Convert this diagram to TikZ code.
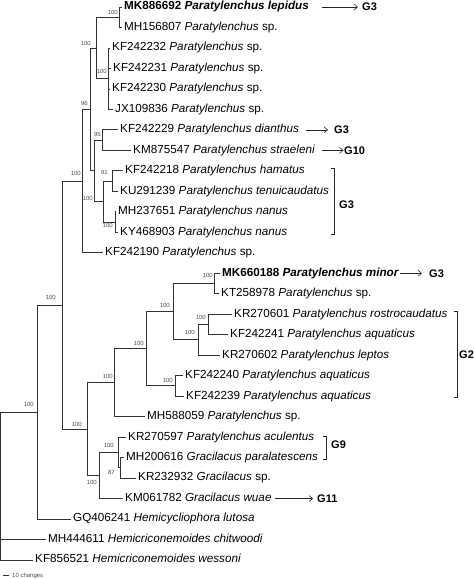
\documentclass[tikz,border=0pt]{standalone}
\usepackage{fontspec}
\setmainfont{Liberation Sans}
\usetikzlibrary{arrows.meta}
\tikzset{
  leaf/.style={anchor=west, inner sep=0pt, font=\fontsize{11.7}{12}\selectfont, text height=8.4pt, text depth=2.5pt},
  bs/.style={anchor=east, inner sep=0pt, font=\fontsize{6}{6}\selectfont, text=black!70},
  grp/.style={anchor=west, inner sep=0pt, font=\bfseries\fontsize{11}{12}\selectfont},
  br/.style={draw=black!80, line width=0.8pt},
  lb/.style={br, shorten >=2pt},
  arr/.style={draw=black!85, line width=0.6pt, -{Straight Barb[length=3.5pt,width=6pt]}},
  brk/.style={draw=black!85, line width=0.6pt}
}
\begin{document}
\begin{tikzpicture}[x=1pt,y={(0pt,-1pt)}]
\useasboundingbox (0,0) rectangle (474,579);
% leaves
\node[leaf] (l1) at (124,7.00) {\textbf{MK886692 \textit{Paratylenchus lepidus}}};
\node[leaf] (l2) at (124,27.48) {MH156807 \textit{Paratylenchus} sp.};
\node[leaf] (l3) at (112,47.96) {KF242232 \textit{Paratylenchus} sp.};
\node[leaf] (l4) at (113,68.44) {KF242231 \textit{Paratylenchus} sp.};
\node[leaf] (l5) at (112,88.92) {KF242230 \textit{Paratylenchus} sp.};
\node[leaf] (l6) at (115,109.40) {JX109836 \textit{Paratylenchus} sp.};
\node[leaf] (l7) at (120,129.88) {KF242229 \textit{Paratylenchus dianthus}};
\node[leaf] (l8) at (133,150.36) {KM875547 \textit{Paratylenchus straeleni}};
\node[leaf] (l9) at (125,170.84) {KF242218 \textit{Paratylenchus hamatus}};
\node[leaf] (l10) at (120,191.32) {KU291239 \textit{Paratylenchus tenuicaudatus}};
\node[leaf] (l11) at (118,211.80) {MH237651 \textit{Paratylenchus nanus}};
\node[leaf] (l12) at (120,232.28) {KY468903 \textit{Paratylenchus nanus}};
\node[leaf] (l13) at (105,252.76) {KF242190 \textit{Paratylenchus} sp.};
\node[leaf] (l14) at (222,273.24) {\textbf{MK660188 \textit{Paratylenchus minor}}};
\node[leaf] (l15) at (221,293.72) {KT258978 \textit{Paratylenchus} sp.};
\node[leaf] (l16) at (234,314.20) {KR270601 \textit{Paratylenchus rostrocaudatus}};
\node[leaf] (l17) at (230,334.68) {KF242241 \textit{Paratylenchus aquaticus}};
\node[leaf] (l18) at (222,355.16) {KR270602 \textit{Paratylenchus leptos}};
\node[leaf] (l19) at (185,375.64) {KF242240 \textit{Paratylenchus aquaticus}};
\node[leaf] (l20) at (186,396.12) {KF242239 \textit{Paratylenchus aquaticus}};
\node[leaf] (l21) at (147,416.60) {MH588059 \textit{Paratylenchus} sp.};
\node[leaf] (l22) at (128,437.08) {KR270597 \textit{Paratylenchus aculentus}};
\node[leaf] (l23) at (126,457.56) {MH200616 \textit{Gracilacus paralatescens}};
\node[leaf] (l24) at (138,478.04) {KR232932 \textit{Gracilacus} sp.};
\node[leaf] (l25) at (125,498.52) {KM061782 \textit{Gracilacus wuae}};
\node[leaf] (l26) at (73,519.00) {GQ406241 \textit{Hemicycliophora lutosa}};
\node[leaf] (l27) at (48,539.48) {MH444611 \textit{Hemicriconemoides chitwoodi}};
\node[leaf] (l28) at (35,559.96) {KF856521 \textit{Hemicriconemoides wessoni}};
% internal nodes
\coordinate (nA) at (119,17.24);
\coordinate (nB) at (108,78.68);
\coordinate (nC) at (96,47.96);
\coordinate (nD) at (102,140.12);
\coordinate (nE) at (112,181.08);
\coordinate (nF) at (115,222.04);
\coordinate (nG) at (103,201.56);
\coordinate (nP) at (94,170.84);
\coordinate (nQ) at (90,109.40);
\coordinate (nR) at (82,181.08);
\coordinate (nZ) at (214,283.48);
\coordinate (nAB) at (208,324.44);
\coordinate (nAA) at (198,339.80);
\coordinate (nX) at (173,311.64);
\coordinate (nY) at (175,385.88);
\coordinate (nW) at (146,348.76);
\coordinate (nU) at (114,382.68);
\coordinate (nAD) at (120,467.80);
\coordinate (nAC) at (118,452.44);
\coordinate (nV) at (99,475.48);
\coordinate (nT) at (87,429.08);
\coordinate (nS) at (62,305.08);
\coordinate (nR1) at (37,412.04);
\coordinate (root) at (0.6,486);
% branches
\draw[lb] (nA) |- (l1.west); \draw[lb] (nA) |- (l2.west);
\draw[lb] (nB) |- (l3.west); \draw[lb] (nB) |- (l4.west);
\draw[lb] (nB) |- (l5.west); \draw[lb] (nB) |- (l6.west);
\draw[br] (nC) |- (nA); \draw[br] (nC) |- (nB);
\draw[lb] (nD) |- (l7.west); \draw[lb] (nD) |- (l8.west);
\draw[lb] (nE) |- (l9.west); \draw[lb] (nE) |- (l10.west);
\draw[lb] (nF) |- (l11.west); \draw[lb] (nF) |- (l12.west);
\draw[br] (nG) |- (nE); \draw[br] (nG) |- (nF);
\draw[br] (nP) |- (nD); \draw[br] (nP) |- (nG);
\draw[br] (nQ) |- (nC); \draw[br] (nQ) |- (nP);
\draw[br] (nR) |- (nQ); \draw[lb] (nR) |- (l13.west);
\draw[lb] (nZ) |- (l14.west); \draw[lb] (nZ) |- (l15.west);
\draw[lb] (nAB) |- (l16.west); \draw[lb] (nAB) |- (l17.west);
\draw[br] (nAA) |- (nAB); \draw[lb] (nAA) |- (l18.west);
\draw[br] (nX) |- (nZ); \draw[br] (nX) |- (nAA);
\draw[lb] (nY) |- (l19.west); \draw[lb] (nY) |- (l20.west);
\draw[br] (nW) |- (nX); \draw[br] (nW) |- (nY);
\draw[br] (nU) |- (nW); \draw[lb] (nU) |- (l21.west);
\draw[lb] (nAD) |- (l23.west); \draw[lb] (nAD) |- (l24.west);
\draw[lb] (nAC) |- (l22.west); \draw[br] (nAC) |- (nAD);
\draw[br] (nV) |- (nAC); \draw[lb] (nV) |- (l25.west);
\draw[br] (nT) |- (nU); \draw[br] (nT) |- (nV);
\draw[br] (nS) |- (nR); \draw[br] (nS) |- (nT);
\draw[br] (nR1) |- (nS); \draw[lb] (nR1) |- (l26.west);
\draw[br] (root) |- (nR1); \draw[lb] (root) |- (l27.west); \draw[lb] (root) |- (l28.west);
% bootstrap values
\node[bs] (bA) at (118,12) {100};
\node[bs] (bC) at (91,43) {100};
\node[bs] (bB) at (107,71) {100};
\node[bs] (bQ) at (88,103) {96};
\node[bs] (bD) at (101,134) {95};
\node[bs] (bE) at (108,172) {91};
\node[bs] (bG) at (93,198) {100};
\node[bs] (bF) at (113,225) {100};
\node[bs] (bR) at (81,173) {100};
\node[bs] (bS) at (56,297) {100};
\node[bs] (bR1) at (34,404) {100};
\node[bs] (bZ) at (213,275) {100};
\node[bs] (bX) at (170,305) {100};
\node[bs] (bAB) at (206,317) {100};
\node[bs] (bAA) at (195,332) {100};
\node[bs] (bW) at (144,343) {100};
\node[bs] (bY) at (173,380) {100};
\node[bs] (bU) at (113,376) {100};
\node[bs] (bT) at (82,424) {100};
\node[bs] (bAC) at (114,445) {100};
\node[bs] (bV) at (97,482) {100};
\node[bs] (bAD) at (115,472) {87};
% group labels and arrows
\node[grp] (g1) at (362,7) {G3};
\coordinate (a1) at (322,7);
\draw[arr] (a1) -- ([xshift=-4pt]g1.west);
\node[grp] (g2) at (334,129.88) {G3};
\coordinate (a2) at (306,129.88);
\draw[arr] (a2) -- ([xshift=-6pt]g2.west);
\node[grp] (g3) at (344,150.36) {G10};
\coordinate (a3) at (322,150.36);
\draw[arr] (a3) -- ([xshift=-0.5pt]g3.west);
\node[grp] (g4) at (339,205) {G3};
\coordinate (k1t) at (331,168.5);
\coordinate (k1b) at (331,234.5);
\draw[brk] (k1t) -- ++(3,0) -- ++(0,66) -- (k1b);
\node[grp] (g5) at (429,273.24) {G3};
\coordinate (a5) at (400,273.24);
\draw[arr] (a5) -- ([xshift=-7pt]g5.west);
\node[grp] (g6) at (459,355) {G2};
\coordinate (k2t) at (454,311);
\coordinate (k2b) at (454,397);
\draw[brk] (k2t) -- ++(3,0) -- ++(0,86) -- (k2b);
\node[grp] (g7) at (331,445) {G9};
\coordinate (k3t) at (323,436);
\coordinate (k3b) at (323,459);
\draw[brk] (k3t) -- ++(3,0) -- ++(0,23) -- (k3b);
\node[grp] (g8) at (317,498.52) {G11};
\coordinate (a8) at (275,498.52);
\draw[arr] (a8) -- ([xshift=-4pt]g8.west);
% scale bar
\coordinate (s1) at (3,575);
\coordinate (s2) at (9,575);
\draw[br] (s1) -- (s2);
\node[anchor=west, inner sep=0pt, font=\fontsize{6}{6}\selectfont, text=black!70] (sc) at (12,575.5) {10 changes};
\end{tikzpicture}
\end{document}
